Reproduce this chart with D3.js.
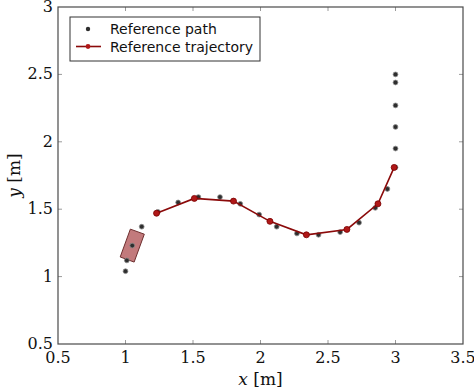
<!DOCTYPE html>
<html>
<head>
<meta charset="utf-8">
<script src="https://cdn.jsdelivr.net/npm/d3@7"></script>
<style>
  html, body { margin: 0; padding: 0; background: #fff; }
  .tick-label { font-family: "DejaVu Serif", serif; font-size: 16px; fill: #111; }
  .legend text { font-family: "DejaVu Sans", sans-serif; font-size: 14px; fill: #111; }
  .axis-title { font-family: "DejaVu Serif", serif; font-size: 17px; fill: #111; }
</style>
</head>
<body>
<div class="canvas"></div>
<script>
// reference path (grey dots)
const pathX = [1.0, 1.01, 1.05, 1.12, 1.24, 1.39, 1.54, 1.70, 1.85, 1.99, 2.12, 2.27, 2.43, 2.59, 2.73, 2.85, 2.94, 3.0, 3.0, 3.0, 3.0, 3.0, 3.0];
const pathY = [1.04, 1.12, 1.23, 1.37, 1.48, 1.55, 1.59, 1.59, 1.54, 1.46, 1.37, 1.32, 1.31, 1.33, 1.40, 1.51, 1.65, 1.81, 1.95, 2.11, 2.27, 2.44, 2.50];

// reference trajectory (red line with markers)
const trajX = [1.23, 1.51, 1.80, 2.07, 2.34, 2.64, 2.87, 2.99];
const trajY = [1.47, 1.58, 1.56, 1.41, 1.31, 1.35, 1.54, 1.81];

// robot: centre, heading (deg), length, width
const robot = { x: 1.05, y: 1.23, heading: 70, length: 0.22, width: 0.11 };

const xTicks = [0.5, 1, 1.5, 2, 2.5, 3, 3.5];
const yTicks = [0.5, 1, 1.5, 2, 2.5, 3];
const legendLabels = ['Reference path', 'Reference trajectory'];

const dims = { width: 474, height: 391 };
const plot = { left: 58, right: 463, top: 7, bottom: 344 };

const svg = d3.select('.canvas')
  .append('svg')
  .attr('width', dims.width)
  .attr('height', dims.height);

const x = d3.scaleLinear().domain([0.5, 3.5]).range([plot.left, plot.right]);
const y = d3.scaleLinear().domain([0.5, 3]).range([plot.bottom, plot.top]);

// ticks, pointing inwards on all four sides
const tickLen = 4;
const tickG = svg.append('g').attr('stroke', '#9a9a9a').attr('stroke-width', 1);
xTicks.slice(1, -1).forEach(t => {
  tickG.append('line').attr('x1', x(t)).attr('x2', x(t)).attr('y1', plot.bottom).attr('y2', plot.bottom - tickLen);
  tickG.append('line').attr('x1', x(t)).attr('x2', x(t)).attr('y1', plot.top).attr('y2', plot.top + tickLen);
});
yTicks.slice(1, -1).forEach(t => {
  tickG.append('line').attr('y1', y(t)).attr('y2', y(t)).attr('x1', plot.left).attr('x2', plot.left + tickLen);
  tickG.append('line').attr('y1', y(t)).attr('y2', y(t)).attr('x1', plot.right).attr('x2', plot.right - tickLen);
});

// frame
svg.append('rect')
  .attr('x', plot.left)
  .attr('y', plot.top)
  .attr('width', plot.right - plot.left)
  .attr('height', plot.bottom - plot.top)
  .attr('fill', 'none')
  .attr('stroke', '#4a4a4a')
  .attr('stroke-width', 1.2);

// tick labels
svg.append('g').selectAll('text')
  .data(xTicks)
  .enter().append('text')
    .attr('class', 'tick-label')
    .attr('x', d => x(d))
    .attr('y', plot.bottom + 19)
    .attr('text-anchor', 'middle')
    .text(d => d);

svg.append('g').selectAll('text')
  .data(yTicks)
  .enter().append('text')
    .attr('class', 'tick-label')
    .attr('x', plot.left - 5)
    .attr('y', d => y(d) + 5)
    .attr('text-anchor', 'end')
    .text(d => d);

// axis titles
const xTitle = svg.append('text')
  .attr('class', 'axis-title')
  .attr('x', (plot.left + plot.right) / 2)
  .attr('y', 385)
  .attr('text-anchor', 'middle');
xTitle.append('tspan').attr('font-style', 'italic').text('x');
xTitle.append('tspan').text(' [m]');

const yTitle = svg.append('text')
  .attr('class', 'axis-title')
  .attr('transform', `translate(20, ${(plot.top + plot.bottom) / 2}) rotate(-90)`)
  .attr('text-anchor', 'middle');
yTitle.append('tspan').attr('font-style', 'italic').text('y');
yTitle.append('tspan').text(' [m]');

// robot footprint
const th = robot.heading * Math.PI / 180;
const ux = Math.cos(th), uy = Math.sin(th);
const corners = [[1, 1], [1, -1], [-1, -1], [-1, 1]].map(([a, b]) => [
  robot.x + a * robot.length / 2 * ux - b * robot.width / 2 * uy,
  robot.y + a * robot.length / 2 * uy + b * robot.width / 2 * ux
]);
svg.append('polygon')
  .attr('points', corners.map(c => `${x(c[0])},${y(c[1])}`).join(' '))
  .attr('fill', '#c27a7c')
  .attr('stroke', '#6e2e2e')
  .attr('stroke-width', 1);

// reference path dots
const pathData = pathX.map((d, i) => ({ x: d, y: pathY[i] }));
svg.append('g').selectAll('circle')
  .data(pathData)
  .enter().append('circle')
    .attr('cx', d => x(d.x))
    .attr('cy', d => y(d.y))
    .attr('r', 2.4)
    .attr('fill', '#2e2e2e')
    .attr('stroke', '#8a8a8a')
    .attr('stroke-width', 0.8);

// trajectory
const trajData = trajX.map((d, i) => ({ x: d, y: trajY[i] }));
const line = d3.line().x(d => x(d.x)).y(d => y(d.y));
svg.append('path')
  .attr('d', line(trajData))
  .attr('fill', 'none')
  .attr('stroke', '#8b0a0a')
  .attr('stroke-width', 1.6);

svg.append('g').selectAll('circle')
  .data(trajData)
  .enter().append('circle')
    .attr('cx', d => x(d.x))
    .attr('cy', d => y(d.y))
    .attr('r', 3)
    .attr('fill', '#b01818')
    .attr('stroke', '#7a0000')
    .attr('stroke-width', 0.8);

// legenda
const legend = svg.append('g').attr('class', 'legend');
legend.append('rect')
  .attr('x', 70).attr('y', 17)
  .attr('width', 190).attr('height', 44)
  .attr('fill', '#fff')
  .attr('stroke', '#333')
  .attr('stroke-width', 1);

legend.append('circle')
  .attr('cx', 88).attr('cy', 29).attr('r', 2.2)
  .attr('fill', '#2e2e2e');
legend.append('line')
  .attr('x1', 76).attr('x2', 101)
  .attr('y1', 46.5).attr('y2', 46.5)
  .attr('stroke', '#8b0a0a').attr('stroke-width', 1.6);
legend.append('circle')
  .attr('cx', 88).attr('cy', 46.5).attr('r', 2.4)
  .attr('fill', '#b01818');

legend.selectAll('text')
  .data(legendLabels)
  .enter().append('text')
    .attr('x', 110)
    .attr('y', (d, i) => 34 + i * 17.5)
    .text(d => d);
</script>
</body>
</html>
